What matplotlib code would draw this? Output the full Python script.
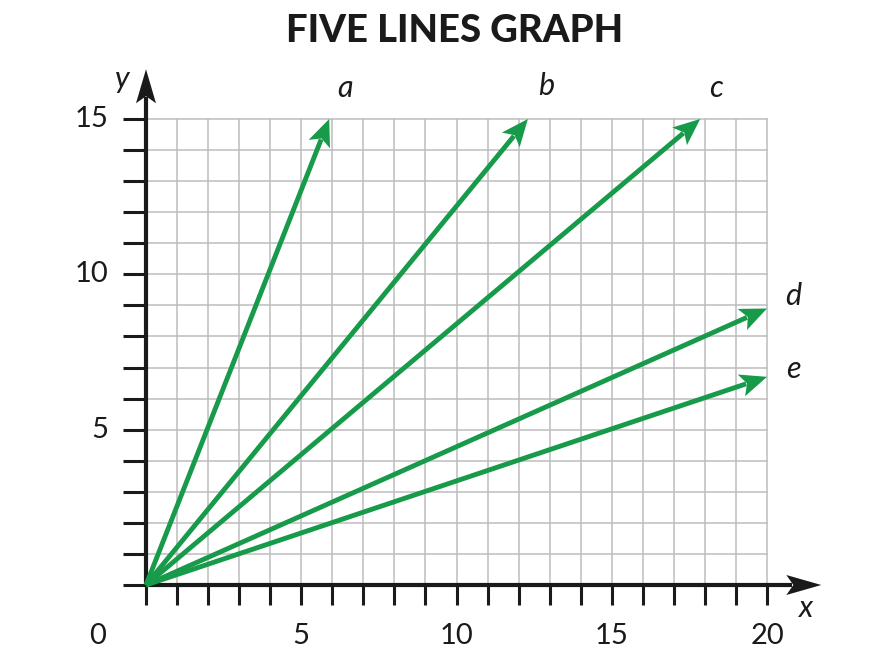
import matplotlib
matplotlib.use("Agg")
import matplotlib.pyplot as plt
import numpy as np
from matplotlib.patches import Polygon
from matplotlib.transforms import IdentityTransform

# ---- data ----
line_names = ["a", "b", "c", "d", "e"]
end_x = [5.9, 12.3, 17.85, 20.0, 20.0]
end_y = [15.0, 15.0, 15.0, 8.9, 6.7]
x_ticks = list(range(0, 21))
y_ticks = list(range(0, 16))
x_labels = [5, 10, 15, 20]
y_labels = [5, 10, 15]
title = "FIVE LINES GRAPH"

GREEN = "#179a4a"
GRID = "#bdbdbd"
BLACK = "#1a1a1a"
FONT = "Lato"

fig = plt.figure(figsize=(8.94, 6.71), dpi=100)
ax = fig.add_axes([0, 0, 1, 1])
sx = 31.05
sy = 31.07
ax.set_xlim(-146 / sx, (894 - 146) / sx)
ax.set_ylim(-86 / sy, (671 - 86) / sy)
ax.axis("off")


def arrow(x0, y0, x1, y1, color, lw, length, half_w, notch, z):
    """Shaft in data coords, stealth head built in display pixels."""
    p0 = ax.transData.transform((x0, y0))
    p1 = ax.transData.transform((x1, y1))
    d = p1 - p0
    L = np.hypot(*d)
    u = d / L
    n = np.array([-u[1], u[0]])
    base = p1 - u * length
    pts = [p1, base + n * half_w, p1 - u * (length - notch), base - n * half_w]
    ax.add_patch(Polygon(pts, closed=True, facecolor=color, edgecolor="none",
                         transform=IdentityTransform(), zorder=z + 0.1))
    f = (L - (length - notch) - 1) / L
    ax.plot([x0, x0 + (x1 - x0) * f], [y0, y0 + (y1 - y0) * f], color=color,
            lw=lw, solid_capstyle="butt", zorder=z)


# grid
for xv in x_ticks:
    ax.plot([xv, xv], [0, 15], color=GRID, lw=1.1, zorder=1)
for yv in y_ticks:
    ax.plot([0, 20], [yv, yv], color=GRID, lw=1.1, zorder=1)

# tick marks
for xv in x_ticks:
    ax.plot([xv, xv], [0, -0.64], color=BLACK, lw=2.2, solid_capstyle="butt", zorder=4)
for yv in y_ticks:
    ax.plot([-0.74, 0], [yv, yv], color=BLACK, lw=2.2, solid_capstyle="butt", zorder=4)

# axes with arrows
arrow(-0.05, 0, 21.75, 0, BLACK, 3.0, 35, 10, 7, 4)
arrow(0, -0.05, 0, 16.6, BLACK, 3.0, 34, 10, 7, 4)

# tick labels
for xv in x_labels:
    ax.text(xv, -1.65, str(xv), ha="center", va="center", fontsize=21,
            family=FONT, color=BLACK)
ax.text(-1.55, -1.65, "0", ha="center", va="center", fontsize=21,
        family=FONT, color=BLACK)
for yv in y_labels:
    ax.text(-1.2, yv, str(yv), ha="right", va="center", fontsize=21,
            family=FONT, color=BLACK)

# axis names
ax.text(21.26, -0.75, "x", ha="center", va="center", fontsize=22,
        family=FONT, style="italic", color=BLACK)
ax.text(-0.75, 16.3, "y", ha="center", va="center", fontsize=22,
        family=FONT, style="italic", color=BLACK)

# lines with arrow heads
for name, xe, ye in zip(line_names, end_x, end_y):
    arrow(0, 0, xe, ye, GREEN, 3.5, 27, 11.5, 6, 5)

# line labels
label_pos = {"a": (6.4, 16.0), "b": (12.9, 16.05), "c": (18.35, 16.0),
             "d": (20.85, 9.3), "e": (20.85, 6.95)}
for name in line_names:
    lx, ly = label_pos[name]
    ax.text(lx, ly, name, ha="center", va="center", fontsize=22,
            family=FONT, style="italic", color=BLACK)

fig.text(455 / 894, 1 - 31 / 671, title, ha="center", va="center",
         fontsize=27.5, family=FONT, weight="black", color=BLACK)

fig.savefig("out.png", dpi=100)
